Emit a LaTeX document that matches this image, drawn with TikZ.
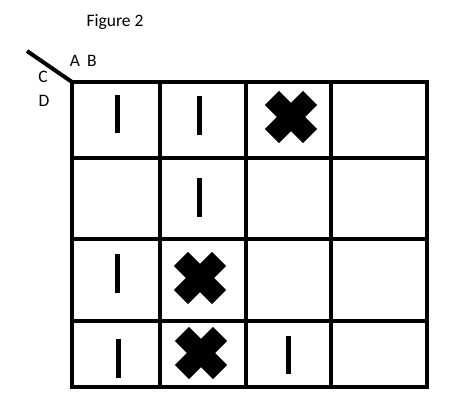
\documentclass[tikz,border=0pt]{standalone}
\usepackage{fontspec}
\setmainfont{Carlito}
\begin{document}
\begin{tikzpicture}[x=1pt,y=-1pt,
  gridline/.style={line width=3.5pt,black},
  bar/.style={line width=5pt,black},
  lbl/.style={inner sep=0pt,font=\fontsize{17.5}{20}\selectfont}]
\useasboundingbox (0,0) rectangle (474,415);
\fill[white] (0,0) rectangle (474,415);
% title and labels
\node[lbl] (title) at (115,22) {Figure 2};
\node[lbl] (A) at (75,61) {A};
\node[lbl] (B) at (92,61) {B};
\node[lbl] (C) at (43,77) {C};
\node[lbl] (D) at (44,101) {D};
% diagonal
\coordinate (corner) at (72,82);
\coordinate (diagend) at (27,51);
\draw[line width=4pt] (diagend) -- (corner);
% grid
\foreach \x in {72,160,246,331,427} \draw[gridline] (\x,82) -- (\x,387);
\foreach \y in {82,158,239,321,387} \draw[gridline] (72,\y) -- (427,\y);
\draw[gridline,line join=miter] (72,82) rectangle (427,387);
% bars
\draw[bar] (117,95) -- (117,133);
\draw[bar] (199,96) -- (199,135);
\draw[bar] (199,178) -- (199,217);
\draw[bar] (117,254) -- (117,293);
\draw[bar] (118,339) -- (118,378);
\draw[bar] (288,336) -- (288,374);
% crosses
\foreach \cx/\cy in {291/117,200/278,201/353}{
  \begin{scope}[shift={(\cx,\cy)}]
    \fill[rotate=45] (-27,-10) rectangle (27,10);
    \fill[rotate=-45] (-27,-10) rectangle (27,10);
  \end{scope}
}
\end{tikzpicture}
\end{document}
